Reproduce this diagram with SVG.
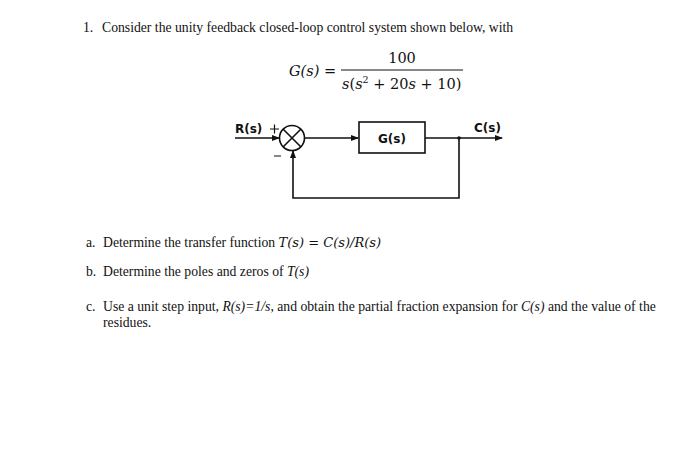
<svg xmlns="http://www.w3.org/2000/svg" width="700" height="451" viewBox="0 0 700 451">
<style>
.t{font-family:"Liberation Serif",serif;font-size:13.7px;fill:#111}
.m{font-family:"DejaVu Serif","Liberation Serif",serif;font-size:14.5px;fill:#111}
.s{font-family:"DejaVu Sans","Liberation Sans",sans-serif;font-size:12px;font-weight:bold;fill:#111}
.l{stroke:#111;stroke-width:1.6;fill:none}
</style>
<defs><marker id="a" markerWidth="8" markerHeight="8" refX="7" refY="4" orient="auto" markerUnits="userSpaceOnUse"><path d="M0,1 L8,4 L0,7 Z" fill="#111"/></marker></defs>
<rect width="700" height="451" fill="#fff"/>
<text class="t" x="83" y="32">1.</text>
<text class="t" x="102" y="32">Consider the unity feedback closed-loop control system shown below, with</text>
<text class="m" x="289" y="76" font-style="italic">G(s) =</text>
<text class="m" x="402" y="63" text-anchor="middle">100</text>
<line x1="341" y1="70" x2="463" y2="70" stroke="#111" stroke-width="1"/>
<text class="m" x="342" y="89"><tspan font-style="italic">s</tspan>(<tspan font-style="italic">s</tspan><tspan font-size="9.5" dy="-6">2</tspan><tspan dy="6"> + 20</tspan><tspan font-style="italic">s</tspan> + 10)</text>
<g id="sum"><circle cx="292" cy="138" r="12.5" class="l"/><path d="M283,129 L301,147 M301,129 L283,147" class="l"/>
<text class="s" x="235" y="133">R(s)</text>
<path d="M270,129 H279 M274.5,124.5 V133.5 M274,156 H281" stroke="#111" stroke-width="1.2"/></g>
<g id="G"><rect x="359" y="122" width="66" height="31" class="l"/><text class="s" x="392" y="143" text-anchor="middle">G(s)</text></g>
<g id="out"><text class="s" x="474" y="132">C(s)</text><circle cx="459" cy="138" r="1.8" fill="#111"/></g>
<g id="connectors">
<line x1="235" y1="138" x2="279" y2="138" class="l" marker-end="url(#a)"/>
<line x1="305" y1="138" x2="358" y2="138" class="l" marker-end="url(#a)"/>
<line x1="425" y1="138" x2="502" y2="138" class="l" marker-end="url(#a)"/>
<polyline points="459,138 459,198 293,198 293,151" class="l" marker-end="url(#a)"/>
</g>
<text class="t" x="86" y="247">a.</text>
<text class="t" x="103" y="247">Determine the transfer function <tspan font-family="DejaVu Serif" font-style="italic" font-size="13">T(s) = C(s)/R(s)</tspan></text>
<text class="t" x="86" y="276">b.</text>
<text class="t" x="103" y="276">Determine the poles and zeros of <tspan font-style="italic">T(s)</tspan></text>
<text class="t" x="86" y="311">c.</text>
<text class="t" x="103" y="311">Use a unit step input, <tspan font-style="italic">R(s)=1/s</tspan>, and obtain the partial fraction expansion for <tspan font-style="italic">C(s)</tspan> and the value of the</text>
<text class="t" x="103" y="327">residues.</text>
</svg>
